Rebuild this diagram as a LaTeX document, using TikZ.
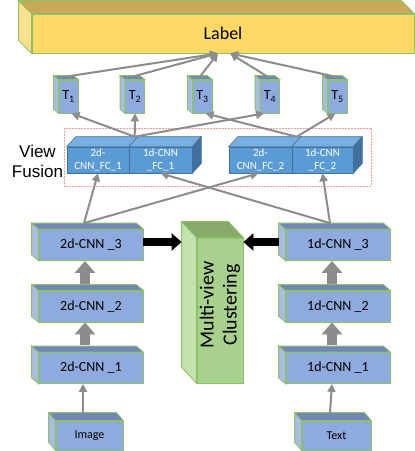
\documentclass[tikz,border=0pt]{standalone}
\usepackage{fontspec}
\setmainfont{Carlito}
\newfontfamily\arialfont{Liberation Sans}
\usetikzlibrary{arrows.meta,calc}

\definecolor{reuna}{HTML}{8CC168}
\definecolor{cnnetu}{HTML}{8FAADC}
\definecolor{cnnkansi}{HTML}{7087B8}
\definecolor{cnnsivu}{HTML}{A8BCE5}
\definecolor{fuetu}{HTML}{5B9BD5}
\definecolor{fukansi}{HTML}{78AEE0}
\definecolor{fusivu}{HTML}{41719C}
\definecolor{keletu}{HTML}{FFD966}
\definecolor{kelkansi}{HTML}{C9A857}
\definecolor{kelsivu}{HTML}{FFE08C}
\definecolor{vihetu}{HTML}{A9D18E}
\definecolor{vihkansi}{HTML}{86AB6C}
\definecolor{vihsivu}{HTML}{C3E2AD}
\definecolor{harmaa}{HTML}{8C8C8C}
\definecolor{puna}{HTML}{FF9999}

\begin{document}
\begin{tikzpicture}[x=1pt, y=-1pt,
	laatikko/.style = {draw=reuna, line width=0.8pt, inner sep=0pt},
	cnn/.style = {laatikko, fill=cnnetu, minimum width=104pt, minimum height=31pt, font=\fontsize{14}{16}\selectfont},
	syote/.style = {laatikko, fill=cnnetu, minimum height=29pt, font=\fontsize{12}{14}\selectfont},
	tee/.style = {laatikko, fill=cnnetu, minimum width=19pt, minimum height=33pt, font=\fontsize{14}{16}\selectfont},
	fuusio/.style = {draw=fusivu, line width=0.6pt, fill=fuetu, inner sep=0pt, minimum width=63pt, minimum height=26pt, align=center, text=white, font=\fontsize{11}{12.5}\selectfont},
	ohut/.style = {draw=harmaa, line width=2pt, -{Triangle[length=8pt,width=8pt]}},
	blokki/.style = {draw=harmaa, line width=10pt, -{Triangle[length=12pt,width=20pt]}},
	musta/.style = {draw=black, line width=8pt, -{Triangle[length=10pt,width=17pt]}}]
	\useasboundingbox (0,0) rectangle (415,451);
	% Laatikot
	\node[laatikko, fill=keletu, minimum width=382pt, minimum height=39pt, font=\fontsize{18}{20}\selectfont] (label) at (223,33.5) {Label};
	\node[tee] (t1) at (68.5,96.5) {T\textsubscript{1}};
	\node[tee] (t2) at (135,96.5) {T\textsubscript{2}};
	\node[tee] (t3) at (202.5,96.5) {T\textsubscript{3}};
	\node[tee] (t4) at (270,96.5) {T\textsubscript{4}};
	\node[tee] (t5) at (337.5,96.5) {T\textsubscript{5}};
	\node[fuusio, minimum width=62pt] (f2a) at (98,160) {2d-\\CNN\_FC\_1};
	\node[fuusio] (f1a) at (160.5,160) {1d-CNN\\\_FC\_1};
	\node[fuusio] (f2b) at (260.5,160) {2d-\\CNN\_FC\_2};
	\node[fuusio, minimum width=61pt] (f1b) at (322.5,160) {1d-CNN\\\_FC\_2};
	\node[cnn] (c3) at (91,245) {2d-CNN \_3};
	\node[cnn] (c2) at (91,306.5) {2d-CNN \_2};
	\node[cnn] (c1) at (91,368) {2d-CNN \_1};
	\node[cnn] (d3) at (338,245) {1d-CNN \_3};
	\node[cnn] (d2) at (338,306.5) {1d-CNN \_2};
	\node[cnn] (d1) at (338,368) {1d-CNN \_1};
	\node[syote, minimum width=67pt] (img) at (89.5,435.5) {Image};
	\node[syote, minimum width=69pt] (txt) at (336.5,435.5) {Text};
	\node[laatikko, fill=vihetu, minimum width=46pt, minimum height=145pt] (multi) at (220,310.5) {};
	\node[rotate=90, align=center, font=\fontsize{20}{23}\selectfont] (multiteksti) at (220,305) {Multi-view\\Clustering};
	\node[align=center, font=\arialfont\fontsize{17}{20}\selectfont] (vf) at (37.5,161) {View\\Fusion};
	\draw[puna, dashed, dash pattern=on 2pt off 1pt, line width=0.6pt] (64,128) rectangle (371,186);
	% Kannet ja kyljet
	\filldraw[draw=reuna, line width=0.8pt, fill=kelsivu] (label.north west) -- ++(-13,-13) -- ($(label.south west)+(-13,-13)$) -- (label.south west) -- cycle;
	\filldraw[draw=reuna, line width=0.8pt, fill=kelkansi] (label.north west) -- ++(-13,-13) -- ($(label.north east)+(-13,-13)$) -- (label.north east) -- cycle;
	\foreach \laat in {t1,t2,t3,t4,t5} {
		\filldraw[draw=reuna, line width=0.8pt, fill=cnnsivu] (\laat.north west) -- ++(-5,-4) -- ($(\laat.south west)+(-5,-4)$) -- (\laat.south west) -- cycle;
		\filldraw[draw=reuna, line width=0.8pt, fill=cnnkansi] (\laat.north west) -- ++(-5,-4) -- ($(\laat.north east)+(-5,-4)$) -- (\laat.north east) -- cycle;
	}
	\foreach \laat in {c1,c2,c3,d1,d2,d3} {
		\filldraw[draw=reuna, line width=0.8pt, fill=cnnsivu] (\laat.north west) -- ++(-7,-6) -- ($(\laat.south west)+(-7,-6)$) -- (\laat.south west) -- cycle;
		\filldraw[draw=reuna, line width=0.8pt, fill=cnnkansi] (\laat.north west) -- ++(-7,-6) -- ($(\laat.north east)+(-7,-6)$) -- (\laat.north east) -- cycle;
	}
	\foreach \laat in {img,txt} {
		\filldraw[draw=reuna, line width=0.8pt, fill=cnnsivu] (\laat.north west) -- ++(-7,-8) -- ($(\laat.south west)+(-7,-8)$) -- (\laat.south west) -- cycle;
		\filldraw[draw=reuna, line width=0.8pt, fill=cnnkansi] (\laat.north west) -- ++(-7,-8) -- ($(\laat.north east)+(-7,-8)$) -- (\laat.north east) -- cycle;
	}
	\filldraw[draw=reuna, line width=0.8pt, fill=vihsivu] (multi.north west) -- ++(-15,-16) -- ($(multi.south west)+(-15,-16)$) -- (multi.south west) -- cycle;
	\filldraw[draw=reuna, line width=0.8pt, fill=vihkansi] (multi.north west) -- ++(-15,-16) -- ($(multi.north east)+(-15,-16)$) -- (multi.north east) -- cycle;
	\foreach \laat in {f2a,f1a,f2b,f1b} {
		\filldraw[draw=fusivu, line width=0.6pt, fill=fukansi] (\laat.north west) -- ++(9,-10) -- ($(\laat.north east)+(9,-10)$) -- (\laat.north east) -- cycle;
	}
	\foreach \laat in {f1a,f1b} {
		\filldraw[draw=fusivu, line width=0.6pt, fill=fusivu] (\laat.north east) -- ++(9,-10) -- ($(\laat.south east)+(9,-10)$) -- (\laat.south east) -- cycle;
	}
	% Nuolet
	\draw[ohut] ($(img.north)+(-6.5,-8)$) -- ($(c1.south)+(-8,0)$);
	\draw[ohut] ($(txt.north)+(-6.5,-8)$) -- ($(d1.south)+(-6,0)$);
	\draw[blokki] ($(c1.north)+(-6,-7)$) -- ($(c2.south)+(-6,0)$);
	\draw[blokki] ($(c2.north)+(-6,-7)$) -- ($(c3.south)+(-6,0)$);
	\draw[blokki] ($(d1.north)+(-6,-7)$) -- ($(d2.south)+(-6,0)$);
	\draw[blokki] ($(d2.north)+(-6,-7)$) -- ($(d3.south)+(-6,0)$);
	\draw[musta] ($(c3.east)+(0,-3)$) -- ($(multi.west |- c3.east)+(-15,-3)$);
	\draw[musta] ($(d3.west)+(-7,-3)$) -- ($(multi.east |- d3.west)+(0,-3)$);
	\draw[ohut] ($(c3.north)+(-7,-6)$) -- (f2a.south);
	\draw[ohut] ($(c3.north)+(-7,-6)$) -- ($(f2b.south)+(-2,0)$);
	\draw[ohut] ($(d3.north)+(-8,-6)$) -- (f1a.south);
	\draw[ohut] ($(d3.north)+(-8,-6)$) -- (f1b.south);
	\draw[ohut] ($(f1a.north west)+(6,-10)$) -- ($(t1.south)+(3,0)$);
	\draw[ohut] ($(f1a.north west)+(6,-10)$) -- (t2.south);
	\draw[ohut] ($(f1a.north west)+(6,-10)$) -- ($(t4.south)+(-6,0)$);
	\draw[ohut] ($(f1b.north west)+(5,-10)$) -- ($(t3.south)+(3,0)$);
	\draw[ohut] ($(f1b.north west)+(5,-10)$) -- ($(t5.south)+(-2,0)$);
	\draw[ohut] ($(t1.north)+(-2.5,-3)$) -- ($(label.south)+(-5,0)$);
	\draw[ohut] ($(t2.north)+(-2.5,-3)$) -- ($(label.south)+(-5,0)$);
	\draw[ohut] ($(t3.north)+(-2.5,-3)$) -- ($(label.south)+(-5,0)$);
	\draw[ohut] ($(t4.north)+(-2.5,-3)$) -- ($(label.south)+(7,0)$);
	\draw[ohut] ($(t5.north)+(-2.5,-3)$) -- ($(label.south)+(7,0)$);
\end{tikzpicture}
\end{document}
